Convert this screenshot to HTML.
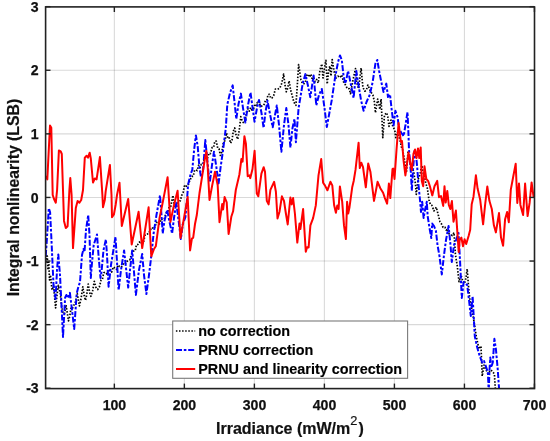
<!DOCTYPE html>
<html><head><meta charset="utf-8"><style>
html,body{margin:0;padding:0;background:#fff;}
svg{display:block;}
</style></head><body>
<svg width="550" height="441" viewBox="0 0 550 441">
<rect width="550" height="441" fill="#fff"/>
<line x1="114.35" y1="7.0" x2="114.35" y2="388.6" stroke="#000" stroke-opacity="0.15" stroke-width="1.1"/>
<line x1="184.36" y1="7.0" x2="184.36" y2="388.6" stroke="#000" stroke-opacity="0.15" stroke-width="1.1"/>
<line x1="254.38" y1="7.0" x2="254.38" y2="388.6" stroke="#000" stroke-opacity="0.15" stroke-width="1.1"/>
<line x1="324.39" y1="7.0" x2="324.39" y2="388.6" stroke="#000" stroke-opacity="0.15" stroke-width="1.1"/>
<line x1="394.41" y1="7.0" x2="394.41" y2="388.6" stroke="#000" stroke-opacity="0.15" stroke-width="1.1"/>
<line x1="464.43" y1="7.0" x2="464.43" y2="388.6" stroke="#000" stroke-opacity="0.15" stroke-width="1.1"/>
<line x1="45.5" y1="324.65" x2="534.5" y2="324.65" stroke="#000" stroke-opacity="0.15" stroke-width="1.1"/>
<line x1="45.5" y1="261.05" x2="534.5" y2="261.05" stroke="#000" stroke-opacity="0.15" stroke-width="1.1"/>
<line x1="45.5" y1="197.45" x2="534.5" y2="197.45" stroke="#000" stroke-opacity="0.15" stroke-width="1.1"/>
<line x1="45.5" y1="133.85" x2="534.5" y2="133.85" stroke="#000" stroke-opacity="0.15" stroke-width="1.1"/>
<line x1="45.5" y1="70.25" x2="534.5" y2="70.25" stroke="#000" stroke-opacity="0.15" stroke-width="1.1"/>
<clipPath id="ax"><rect x="45.5" y="7" width="489" height="381.6"/></clipPath>
<g fill="none" stroke-linejoin="round" stroke-linecap="butt" clip-path="url(#ax)">
<path d="M45.7 252.0L46.5 262.0L47.3 256.0L48.0 270.0L48.8 262.0L49.5 280.0L50.5 275.0L52.0 290.0L53.6 286.0L55.6 308.0L57.0 295.0L58.3 285.4L60.3 293.6L61.7 307.2L63.1 312.6L64.4 314.0L66.0 305.0L68.5 320.8L69.8 316.0L71.2 307.2L72.6 308.1L74.0 305.0L75.7 301.3L77.3 293.6L79.4 305.9L81.1 298.4L82.8 286.8L84.2 295.6L85.5 300.4L86.8 294.2L88.2 284.0L89.6 292.1L90.9 296.3L92.6 290.9L94.3 281.4L96.0 287.4L97.7 289.5L99.4 286.8L101.1 280.0L102.4 279.4L103.7 272.8L105.0 272.2L106.7 273.8L108.3 269.4L110.0 271.0L111.7 272.0L113.3 267.0L115.0 268.0L116.5 269.5L118.0 265.0L119.5 266.5L121.3 267.2L123.1 264.0L124.9 264.8L126.8 261.5L128.3 260.4L129.8 259.7L131.3 255.0L133.9 250.9L135.2 250.8L136.5 244.6L137.8 244.5L139.5 242.0L140.8 243.8L142.2 241.7L143.7 241.2L145.2 234.6L146.7 234.1L148.6 233.7L150.4 229.3L151.8 229.9L153.2 226.6L154.8 227.4L156.4 222.2L158.0 223.0L159.6 223.9L161.1 218.9L162.7 219.8L164.4 218.4L166.1 213.0L167.7 212.8L169.2 206.5L170.8 206.3L172.9 195.4L174.5 207.0L177.0 204.0L179.0 202.0L180.3 200.7L181.7 195.4L183.1 192.7L184.4 186.0L185.8 187.2L187.1 184.5L188.4 184.4L189.8 180.4L191.9 176.4L193.2 176.3L194.6 170.1L195.9 170.0L197.2 170.6L198.6 165.2L200.0 167.8L201.3 164.4L202.9 164.3L204.4 158.1L206.0 158.0L207.5 158.5L208.9 153.1L210.4 153.6L212.2 147.3L213.6 147.3L214.9 141.2L216.3 141.2L217.7 148.0L219.0 148.7L220.4 155.5L221.9 151.9L223.4 142.2L225.0 140.6L226.5 133.0L227.9 138.4L229.2 137.8L230.6 143.2L232.0 140.1L233.3 131.1L234.7 128.0L236.2 135.6L237.8 139.2L239.3 129.9L240.8 116.7L242.4 121.8L243.9 122.9L245.3 120.1L246.6 111.4L248.0 108.6L249.3 111.1L250.7 107.5L252.0 110.0L253.5 109.0L255.0 104.0L256.4 105.5L257.8 100.9L259.2 102.4L260.6 106.2L262.0 106.0L263.7 105.4L265.4 100.8L266.7 100.6L268.1 94.5L269.4 94.3L270.7 98.2L272.0 98.0L273.7 95.5L275.4 89.0L277.6 89.2L279.9 88.1L281.8 83.1L283.6 74.1L285.0 84.9L286.3 91.8L287.7 88.3L289.1 80.9L290.6 90.0L292.0 95.0L293.9 102.2L295.9 105.4L297.2 87.0L298.6 64.5L301.0 80.0L302.6 83.8L304.1 83.6L305.4 82.4L306.8 75.3L308.1 74.1L309.5 77.1L310.9 74.1L312.2 79.1L313.6 78.1L315.1 81.7L316.7 79.4L318.2 83.0L320.0 70.0L321.8 64.0L323.0 78.0L324.5 68.0L325.9 60.4L327.2 84.0L328.5 72.0L329.8 66.0L331.0 76.0L332.2 59.5L333.5 68.0L334.5 73.0L336.0 78.0L338.0 76.2L339.9 77.6L341.7 75.0L343.6 82.0L345.5 85.0L347.4 88.8L349.2 88.7L350.5 93.7L353.0 80.0L355.5 68.7L356.7 82.4L358.6 88.7L361.1 68.1L362.9 87.4L364.8 91.2L366.4 90.1L367.9 85.0L370.4 91.2L372.9 94.9L374.3 101.3L375.4 112.7L377.7 99.1L379.9 109.3L381.1 99.1L382.8 137.6L384.5 115.0L386.7 112.7L387.9 117.2L389.0 126.3L391.0 120.0L392.9 126.8L394.7 129.7L395.8 137.6L397.5 132.0L400.0 140.0L401.4 147.0L402.7 150.0L404.5 160.0L406.4 172.7L408.1 150.9L410.0 161.7L411.8 168.3L413.6 170.9L415.4 183.6L416.3 194.4L418.0 180.0L419.9 174.7L421.8 165.4L423.1 172.9L424.5 176.3L425.9 183.8L427.2 187.2L429.0 199.9L430.4 204.6L431.8 205.3L434.0 210.9L436.3 207.2L438.6 216.3L440.0 221.9L441.3 223.6L443.1 227.4L444.9 227.2L446.2 230.1L447.6 229.0L449.0 233.7L450.4 234.4L452.2 235.5L454.0 232.6L455.4 254.5L457.2 265.4L459.0 281.7L461.0 275.0L462.8 281.3L464.5 283.6L465.9 278.3L467.2 269.0L468.5 286.4L469.9 299.9L472.6 312.6L474.5 325.0L476.5 337.6L479.0 349.0L481.0 346.0L482.2 376.2L484.0 365.0L487.9 373.9L491.0 370.0L494.4 373.9L495.5 392.0" stroke="#000" stroke-width="1.7" stroke-dasharray="1.5 1.6"/>
<path d="M45.7 256.0L46.5 245.0L48.8 208.2L50.1 212.2L51.5 240.8L53.5 285.0L55.6 299.0L57.0 270.0L58.3 254.4L60.0 275.0L61.5 305.0L63.0 337.0L65.1 297.7L66.4 295.0L68.0 298.0L69.9 292.9L72.0 310.0L74.2 329.0L76.7 293.6L78.0 288.2L80.0 282.0L82.0 255.0L83.5 249.0L84.5 252.0L86.0 230.0L88.2 215.0L89.5 235.0L90.8 278.0L91.8 265.0L93.7 245.0L97.0 234.5L98.5 255.0L100.5 278.0L101.5 272.0L103.5 250.0L105.9 239.5L107.0 255.0L108.6 286.7L111.0 265.0L115.5 236.8L117.0 262.0L118.6 290.3L121.0 270.0L124.1 250.4L126.0 268.0L128.2 287.6L130.0 270.0L132.2 250.4L134.0 272.0L135.9 294.9L139.0 270.0L142.2 254.0L144.0 275.0L146.4 294.0L149.0 275.0L151.3 255.9L153.6 233.5L156.4 215.4L160.0 195.4L161.5 215.0L162.7 233.5L164.5 220.8L167.2 209.9L169.5 222.0L172.1 233.5L174.0 218.0L176.3 202.7L178.5 220.0L180.9 239.0L182.7 224.4L185.4 217.2L187.2 197.2L188.1 184.5L190.8 173.6L192.3 169.9L194.1 149.9L195.9 135.4L197.7 146.3L199.5 168.1L201.0 177.2L203.1 169.9L205.3 140.0L207.0 157.0L208.6 173.5L210.0 180.8L212.0 165.0L214.0 151.7L216.5 168.0L218.6 183.5L220.5 168.0L223.1 149.9L225.8 128.1L227.3 104.4L230.0 93.0L232.7 85.4L234.5 102.0L236.3 119.0L238.5 104.0L240.9 93.6L243.0 108.0L245.4 122.6L248.0 105.0L250.5 92.6L252.5 107.0L254.5 121.7L257.0 108.0L259.0 99.9L261.5 113.0L263.6 128.0L265.5 112.0L267.5 100.8L270.0 114.0L272.7 127.2L276.8 105.4L279.0 125.0L281.4 151.7L284.0 125.0L286.3 108.1L288.5 125.0L290.4 147.6L292.5 128.0L294.5 119.0L295.9 142.2L298.6 108.1L302.7 83.6L305.4 74.1L308.1 86.3L310.3 97.2L313.6 75.4L316.3 105.4L319.0 95.0L321.8 89.0L324.5 108.0L326.8 127.0L329.0 115.0L331.8 99.9L335.0 78.0L338.1 61.8L340.0 55.4L341.8 60.0L343.6 76.3L345.4 83.6L348.1 70.9L351.0 85.0L353.6 98.0L356.3 70.9L358.5 85.0L361.0 100.0L363.6 110.8L366.5 102.0L369.9 94.4L372.7 81.8L375.4 63.6L377.3 60.0L379.1 70.9L380.9 80.0L383.5 92.0L386.3 83.6L388.0 97.0L390.0 94.5L391.8 110.8L393.6 125.3L395.4 110.8L397.7 117.6L399.0 129.0L401.5 133.0L403.6 136.2L405.5 125.0L407.5 112.0L408.5 135.0L409.0 150.0L410.9 172.7L411.8 190.8L413.0 170.0L414.5 151.0L416.3 158.0L417.2 167.2L418.5 185.0L420.0 200.0L421.0 212.0L422.2 201.8L423.6 218.0L425.0 210.0L426.8 201.8L427.7 216.3L429.5 228.0L431.3 238.1L432.2 223.6L434.0 226.0L435.9 230.8L437.5 245.0L439.5 256.2L441.8 274.5L444.0 255.0L446.0 240.0L448.6 226.0L450.5 245.0L451.8 262.0L454.0 245.0L456.0 240.0L458.5 233.0L460.0 260.0L461.8 298.0L463.6 282.0L467.2 285.0L469.0 300.0L470.8 316.0L472.6 296.3L474.8 336.3L477.3 347.8L479.7 356.0L482.2 362.5L484.0 361.0L486.2 367.4L487.9 372.3L488.7 392.0L489.5 370.0L490.3 357.6L491.1 367.4L492.8 362.5L494.4 338.8L496.0 350.0L497.7 369.0L499.3 392.0" stroke="#0000ff" stroke-width="2" stroke-dasharray="6 1.8 2.6 1.8"/>
<path d="M45.8 175.8L47.3 179.4L50.0 125.5L51.3 127.7L52.7 195.0L54.0 199.0L55.8 202.7L57.1 190.0L58.9 150.4L60.7 151.3L61.8 154.0L63.0 190.0L64.0 220.9L65.8 228.1L67.6 226.3L69.4 190.0L70.3 178.1L71.6 195.0L73.0 248.1L75.8 208.1L77.6 200.9L79.4 202.7L81.2 200.0L83.0 190.0L84.8 157.6L86.6 155.8L88.0 157.6L89.7 152.7L90.8 158.5L93.0 182.5L94.8 178.5L96.6 179.4L99.9 157.1L102.4 195.0L103.0 207.2L104.8 200.0L105.7 191.2L109.9 164.9L111.5 195.0L112.0 217.2L113.9 214.5L115.7 204.5L117.0 195.0L119.5 182.7L121.8 226.0L128.2 199.0L131.7 244.5L138.6 211.8L142.2 248.1L148.6 207.3L151.3 256.3L154.0 249.0L155.8 246.3L159.5 218.1L162.5 203.6L167.6 177.2L170.4 222.0L174.0 205.0L177.6 190.8L180.5 238.0L183.0 223.6L187.7 197.0L190.1 250.4L191.9 238.6L193.2 237.6L195.0 224.0L196.8 215.0L199.5 193.0L205.0 158.1L206.4 150.9L207.7 167.2L209.5 200.0L212.2 185.4L215.0 171.8L217.7 185.4L219.5 222.2L222.2 204.1L223.1 209.5L224.6 197.0L226.7 202.3L228.6 234.0L231.3 216.8L233.1 211.3L235.8 190.0L239.4 174.5L241.4 159.0L242.6 161.7L244.4 136.3L245.9 143.6L247.7 176.2L249.4 175.4L250.3 178.1L252.5 169.0L254.6 150.8L256.8 193.6L258.3 196.3L261.4 173.6L263.7 167.2L265.0 171.8L266.8 200.8L268.6 204.4L270.4 189.9L274.1 181.8L275.9 191.7L277.5 218.5L279.5 211.7L281.9 196.3L284.0 200.8L285.9 213.5L287.7 224.4L290.4 197.5L291.7 204.4L293.1 198.1L294.9 213.5L297.3 242.6L299.5 223.6L300.4 229.0L303.1 209.1L305.8 251.7L307.1 247.2L308.6 247.6L310.4 225.4L313.1 218.1L315.8 205.4L318.5 175.4L321.2 159.1L323.1 182.7L324.9 185.4L327.4 190.3L330.4 181.8L332.3 185.4L334.1 205.0L335.9 212.7L337.3 205.4L338.6 209.0L339.9 186.4L342.2 201.8L344.0 225.4L345.9 239.0L347.1 201.8L348.2 213.6L349.5 207.2L352.2 187.3L353.7 181.0L355.5 169.9L358.6 142.7L359.8 168.1L361.3 162.7L363.0 167.0L365.8 187.3L368.2 163.6L370.4 171.7L374.0 200.9L377.6 181.8L380.3 188.2L383.1 192.7L384.9 198.1L387.1 203.6L388.9 183.6L390.3 198.1L392.5 169.0L393.2 168.5L394.5 179.0L396.5 150.0L398.6 123.0L400.9 142.0L402.0 141.0L403.6 160.9L405.4 175.4L408.5 152.5L410.9 166.3L411.8 170.0L413.5 153.5L415.0 149.5L416.5 158.0L418.0 148.5L419.3 158.0L420.7 147.5L421.8 180.9L423.2 186.3L424.5 166.3L426.3 179.0L428.1 180.9L429.9 186.3L432.3 195.4L434.5 186.3L437.2 180.9L439.0 197.2L441.0 196.0L443.2 205.9L444.5 186.3L445.7 202.6L447.3 191.0L448.8 205.0L450.3 209.0L451.9 201.1L453.5 221.7L455.9 210.6L457.5 234.4L458.7 251.9L459.8 239.2L461.4 237.6L463.0 246.3L464.6 239.2L466.2 244.0L468.6 236.0L470.2 229.7L471.7 204.3L473.5 196.7L475.9 175.3L477.6 188.6L480.2 199.8L483.1 224.3L485.1 204.9L487.3 186.5L489.4 200.8L491.8 209.0L493.9 225.3L495.9 232.4L499.0 213.1L501.0 237.6L503.1 245.7L505.1 219.2L507.1 212.0L508.8 222.2L510.8 189.6L513.3 176.3L515.7 163.7L517.3 202.9L519.0 183.5L520.4 204.9L523.1 215.1L525.1 183.5L527.6 216.1L529.6 202.9L531.6 182.4L533.7 197.8" stroke="#ff0000" stroke-width="2"/>
</g>
<rect x="45.6" y="6.9" width="488.9" height="381.7" fill="none" stroke="#222" stroke-width="1.6"/>
<line x1="114.35" y1="388.6" x2="114.35" y2="383.6" stroke="#222" stroke-width="1.4"/>
<line x1="114.35" y1="7.0" x2="114.35" y2="12.0" stroke="#222" stroke-width="1.4"/>
<line x1="184.36" y1="388.6" x2="184.36" y2="383.6" stroke="#222" stroke-width="1.4"/>
<line x1="184.36" y1="7.0" x2="184.36" y2="12.0" stroke="#222" stroke-width="1.4"/>
<line x1="254.38" y1="388.6" x2="254.38" y2="383.6" stroke="#222" stroke-width="1.4"/>
<line x1="254.38" y1="7.0" x2="254.38" y2="12.0" stroke="#222" stroke-width="1.4"/>
<line x1="324.39" y1="388.6" x2="324.39" y2="383.6" stroke="#222" stroke-width="1.4"/>
<line x1="324.39" y1="7.0" x2="324.39" y2="12.0" stroke="#222" stroke-width="1.4"/>
<line x1="394.41" y1="388.6" x2="394.41" y2="383.6" stroke="#222" stroke-width="1.4"/>
<line x1="394.41" y1="7.0" x2="394.41" y2="12.0" stroke="#222" stroke-width="1.4"/>
<line x1="464.43" y1="388.6" x2="464.43" y2="383.6" stroke="#222" stroke-width="1.4"/>
<line x1="464.43" y1="7.0" x2="464.43" y2="12.0" stroke="#222" stroke-width="1.4"/>
<line x1="534.44" y1="388.6" x2="534.44" y2="383.6" stroke="#222" stroke-width="1.4"/>
<line x1="534.44" y1="7.0" x2="534.44" y2="12.0" stroke="#222" stroke-width="1.4"/>
<line x1="45.5" y1="388.25" x2="50.5" y2="388.25" stroke="#222" stroke-width="1.4"/>
<line x1="534.5" y1="388.25" x2="529.5" y2="388.25" stroke="#222" stroke-width="1.4"/>
<line x1="45.5" y1="324.65" x2="50.5" y2="324.65" stroke="#222" stroke-width="1.4"/>
<line x1="534.5" y1="324.65" x2="529.5" y2="324.65" stroke="#222" stroke-width="1.4"/>
<line x1="45.5" y1="261.05" x2="50.5" y2="261.05" stroke="#222" stroke-width="1.4"/>
<line x1="534.5" y1="261.05" x2="529.5" y2="261.05" stroke="#222" stroke-width="1.4"/>
<line x1="45.5" y1="197.45" x2="50.5" y2="197.45" stroke="#222" stroke-width="1.4"/>
<line x1="534.5" y1="197.45" x2="529.5" y2="197.45" stroke="#222" stroke-width="1.4"/>
<line x1="45.5" y1="133.85" x2="50.5" y2="133.85" stroke="#222" stroke-width="1.4"/>
<line x1="534.5" y1="133.85" x2="529.5" y2="133.85" stroke="#222" stroke-width="1.4"/>
<line x1="45.5" y1="70.25" x2="50.5" y2="70.25" stroke="#222" stroke-width="1.4"/>
<line x1="534.5" y1="70.25" x2="529.5" y2="70.25" stroke="#222" stroke-width="1.4"/>
<line x1="45.5" y1="6.65" x2="50.5" y2="6.65" stroke="#222" stroke-width="1.4"/>
<line x1="534.5" y1="6.65" x2="529.5" y2="6.65" stroke="#222" stroke-width="1.4"/>
<g font-family="Liberation Sans, Arial, sans-serif" font-weight="bold" font-size="14.1" fill="#111" stroke="#111" stroke-width="0.25">
<text x="114.45" y="410.1" text-anchor="middle">100</text>
<text x="184.46" y="410.1" text-anchor="middle">200</text>
<text x="254.48" y="410.1" text-anchor="middle">300</text>
<text x="324.49" y="410.1" text-anchor="middle">400</text>
<text x="394.51" y="410.1" text-anchor="middle">500</text>
<text x="464.53" y="410.1" text-anchor="middle">600</text>
<text x="534.54" y="410.1" text-anchor="middle">700</text>
<text x="38.7" y="393.35" text-anchor="end">-3</text>
<text x="38.7" y="329.75" text-anchor="end">-2</text>
<text x="38.7" y="266.15" text-anchor="end">-1</text>
<text x="38.7" y="202.55" text-anchor="end">0</text>
<text x="38.7" y="138.95" text-anchor="end">1</text>
<text x="38.7" y="75.35" text-anchor="end">2</text>
<text x="38.7" y="11.75" text-anchor="end">3</text>
</g>
<g font-family="Liberation Sans, Arial, sans-serif" font-weight="bold" font-size="16" fill="#111" stroke="#111" stroke-width="0.2">
<text x="216" y="434">Irradiance (mW/m<tspan dy="-9.5" font-size="12.8" font-weight="normal">2</tspan><tspan dy="9.5" dx="1.2">)</tspan></text>
<text transform="translate(19.0 296.3) rotate(-90)" font-size="15.8">Integral nonlinearity (LSB)</text>
</g>
<rect x="172.7" y="321" width="234.9" height="57.3" fill="#fff" stroke="#7a7a7a" stroke-width="1.1"/>
<line x1="175.9" y1="331" x2="195.2" y2="331" stroke="#000" stroke-width="1.7" stroke-dasharray="1.5 1.6"/>
<line x1="176" y1="350" x2="195.2" y2="350" stroke="#0000ff" stroke-width="2" stroke-dasharray="6 1.8 2.6 1.8"/>
<line x1="176" y1="369" x2="195.2" y2="369" stroke="#ff0000" stroke-width="2"/>
<g font-family="Liberation Sans, Arial, sans-serif" font-weight="bold" font-size="14.4" fill="#000" stroke="#000" stroke-width="0.15">
<text x="198.2" y="336.4">no correction</text>
<text x="198.2" y="355">PRNU correction</text>
<text x="198.2" y="373.9">PRNU and linearity correction</text>
</g>
</svg>
</body></html>
